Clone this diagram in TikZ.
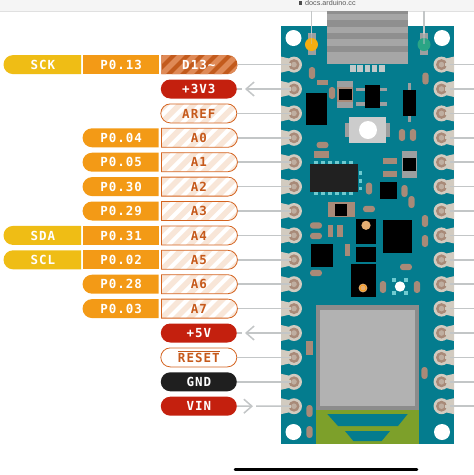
\documentclass[tikz,border=0pt]{standalone}
\usepackage{fontspec}
\usetikzlibrary{arrows.meta,shapes.misc}
\newfontfamily\pinfont[LetterSpace=8]{DejaVu Sans Mono}
\newfontfamily\urlfont{Liberation Sans}
\definecolor{pcbteal}{HTML}{047C8E}
\definecolor{padbeige}{HTML}{D2CBC0}
\definecolor{padbrown}{HTML}{A88A78}
\definecolor{partgrey}{HTML}{9C9FA0}
\definecolor{wire}{HTML}{C3C6C7}
\definecolor{altyellow}{HTML}{EFBD15}
\definecolor{portorange}{HTML}{F39A16}
\definecolor{pwrred}{HTML}{C4200E}
\definecolor{rust}{HTML}{D4631F}
\definecolor{rusttext}{HTML}{C65A1C}
\definecolor{hatchlight}{HTML}{F8E6D8}
\definecolor{cyandot}{HTML}{6ECAD0}
\definecolor{ledorange}{HTML}{F5AE10}
\definecolor{ledgreen}{HTML}{2AA585}
\definecolor{antenna}{HTML}{7DA02A}
\tikzset{
  pill/.style={rounded rectangle,inner sep=0pt,minimum height=19pt,text height=9.5pt,text depth=0pt,
    font=\pinfont\bfseries\fontsize{12.5}{14}\selectfont,text=white},
  stripes/.style={path picture={
    \foreach \s in {-56,-42,...,56}
      \draw[#1,line width=5.5pt] ([xshift=\s pt]path picture bounding box.center) ++(-14,14) -- ++(28,-28);}},
  pinbase/.style={pill,minimum width=76pt},
  pindig/.style={pinbase,rounded rectangle west arc=none,fill=rust!92!black,stripes=rust!75!white},
  pinpwr/.style={pinbase,fill=pwrred},
  pingnd/.style={pinbase,fill=black!88},
  pinref/.style={pinbase,draw=rust,fill=white,text=rusttext,line width=0.8pt,stripes=hatchlight},
  pinana/.style={pinref,rounded rectangle west arc=none},
  pinrst/.style={pinbase,draw=rust,fill=white,text=rusttext,line width=0.8pt},
  portflat/.style={pill,rectangle,minimum width=76pt,fill=portorange},
  portend/.style={pill,minimum width=76pt,fill=portorange,rounded rectangle east arc=none},
  altpin/.style={pill,minimum width=77.5pt,fill=altyellow,rounded rectangle east arc=none},
  padnode/.style={circle,fill=padbeige,minimum size=16pt,inner sep=0pt},
  conn/.style={wire,line width=1.5pt},
  chevron/.style={wire,line width=1.5pt,-{Straight Barb[length=8pt,width=14pt]}},
  brownpart/.style={padbrown,rounded corners=3pt},
}
\begin{document}
\begin{tikzpicture}[x=1pt,y=-1pt]
  \useasboundingbox (0,0) rectangle (474,475);
  \fill[white] (0,0) rectangle (474,475);
  % browser bar
  \fill[black!4] (0,0) rectangle (474,11);
  \draw[black!12,line width=0.6pt] (0,11.5) -- (474,11.5);
  \fill[black!70] (299,1) rectangle (301.5,4.5);
  \node[font=\urlfont\fontsize{7.2}{8}\selectfont,text=black!65,anchor=base west,inner sep=0pt] (url) at (305,5) {docs.arduino.cc};
  \draw[black,line width=2.5pt,line cap=round] (235,469.5) -- (417,469.5);
  % board
  \fill[pcbteal] (281,26) rectangle (454,444);
  \foreach \x in {293.5,442}
    \foreach \y in {38,432}
      \fill[white] (\x,\y) circle (8);
  % heatsink
  \fill[black!44] (327,11) rectangle (408,64);
  \foreach \a/\b in {14.3/20,26.7/33.3,39.3/46,52.4/64}
    \fill[black!35] (327,\a) rectangle (408,\b);
  \foreach \x in {350,357.3,364.6,371.9,379.2}
    \fill[cyandot!30!black!28] (\x,65) rectangle (\x+5.5,72);
  % leds
  \foreach \x/\c in {311.5/ledorange,424/ledgreen} {
    \fill[partgrey] (\x-4,33) rectangle (\x+4,55);
    \fill[\c] (\x,44.5) circle (6.5);
    \draw[wire,line width=1.5pt] (\x,11) -- (\x,34);
    \draw[wire,line width=1.5pt,opacity=0.45] (\x,34) -- (\x,44);
  }
  % black parts
  \foreach \a/\b/\c/\d in {306/93/327/125,380/182/397/199,356/219/376/244,383/220/412/253,311/244/333/267,356/247/376/262,351/264/376/297}
    \fill[black] (\a,\b) rectangle (\c,\d);
  % sot parts
  \fill[partgrey] (337,81) rectangle (353,108);
  \fill[padbrown] (337,87) rectangle (353,102);
  \fill[black] (338.5,88.5) rectangle (351.5,100);
  \fill[partgrey] (402,151) rectangle (417,178);
  \fill[black] (403,158) rectangle (416,171);
  \fill[padbrown] (328,202) rectangle (355,217);
  \fill[black] (335,203.5) rectangle (347,215.5);
  \fill[partgrey] (356,87.5) rectangle (387,91);
  \fill[partgrey] (356,102) rectangle (387,106);
  \fill[black] (365,85) rectangle (380,108);
  \fill[partgrey] (407.5,83) rectangle (411,122);
  \fill[black] (403,90) rectangle (416,116);
  % button
  \fill[black!38] (345,123) rectangle (390,137);
  \fill[black!20] (349,117) rectangle (386,143);
  \fill[white] (368,130) circle (9);
  % main chip
  \fill[black!87] (310,164) rectangle (358,192);
  \foreach \x in {316,323,330,337,344,351} {
    \fill[cyandot] (\x-1.7,160.5) rectangle (\x+1.7,163.5);
    \fill[cyandot] (\x-1.7,192.3) rectangle (\x+1.7,195.3);
  }
  \foreach \y in {173,181,188.5}
    \fill[cyandot] (358.6,\y-1.7) rectangle (361.6,\y+1.7);
  % small brown parts
  \foreach \a/\b/\c/\d in {317/80/328/85,314/150.5/329/157.5,383/158/397/164,383/171/397/177,328/225/333/237,337/225/343/237,345/244/350/256,306/341/313/355}
    \fill[padbrown] (\a,\b) rectangle (\c,\d);
  \foreach \x/\y in {312/73,425.5/78.5,332/93,402/135,413/135,369/188.5,404.5/191,411.5/202,425/221,425/241,383/287,417/287,424.5/373,309.5/411,309.5/432}
    \fill[brownpart] (\x-3.2,\y-6) rectangle (\x+3.2,\y+6);
  \foreach \x/\y in {322.5/145,369/209,316/225.5,316/236,406/267,316/273}
    \fill[brownpart] (\x-6,\y-3.2) rectangle (\x+6,\y+3.2);
  % test points
  \fill[padbeige!60!orange] (366,225.3) circle (4.6);
  \fill[padbeige!60!orange] (363,288) circle (4.4);
  \draw[orange!80!yellow,line width=0.6pt] (363,288) circle (3);
  \fill[cyandot] (392,278) rectangle (408,295);
  \fill[pcbteal] (396,278) rectangle (404,295);
  \fill[pcbteal] (392,282) rectangle (408,291);
  \fill[white] (400,286.5) circle (5.2);
  % radio module
  \fill[black!45] (316,305) rectangle (419,410);
  \fill[black!30] (320,310) rectangle (415,406);
  \fill[antenna] (316,410) rectangle (419,444);
  \fill[pcbteal] (327.3,414) -- (407.7,414) -- (398,426) -- (338,426) -- cycle;
  \fill[pcbteal] (345,431) -- (390,431) -- (381.7,441) -- (353.3,441) -- cycle;
  % pads
  \foreach \i in {0,...,14} {
    \pgfmathsetmacro\y{64.6+24.4*\i}
    \fill[padbeige] (281,\y-8) -- (294,\y-5) -- (294,\y+5) -- (281,\y+8) -- cycle;
    \fill[padbeige] (454,\y-8) -- (441,\y-5) -- (441,\y+5) -- (454,\y+8) -- cycle;
    \node[padnode] (padL\i) at (294,\y) {};
    \node[padnode] (padR\i) at (441.5,\y) {};
    \fill[padbrown] (padL\i) circle (5.5);
    \fill[padbrown] (padR\i) circle (5.5);
    \fill[padbeige!55!padbrown] (padL\i) circle (2.8);
    \fill[padbeige!55!padbrown] (padR\i) circle (2.8);
    \fill[padbeige] (281,\y-1.6) rectangle (291,\y+1.6);
    \fill[padbeige] (444.5,\y-1.6) rectangle (454,\y+1.6);
    \coordinate (edgeR\i) at (474,\y);
    \draw[conn] (padR\i.center) ++(8,0) -- (edgeR\i);
  }
  % pin labels
  \foreach \i/\txt/\sty in {0/D13\textasciitilde/pindig,1/+3V3/pinpwr,2/AREF/pinref,3/A0/pinana,4/A1/pinana,5/A2/pinana,6/A3/pinana,7/A4/pinana,8/A5/pinana,9/A6/pinana,10/A7/pinana,11/+5V/pinpwr,12/\ensuremath{\overline{\hbox{RESET}}}/pinrst,13/GND/pingnd,14/VIN/pinpwr} {
    \pgfmathsetmacro\y{64.6+24.4*\i}
    \node[\sty] (pin\i) at (198.8,\y) {\txt};
  }
  \foreach \i/\txt/\sty in {0/P0.13/portflat,3/P0.04/portend,4/P0.05/portend,5/P0.30/portend,6/P0.29/portend,7/P0.31/portflat,8/P0.02/portflat,9/P0.28/portend,10/P0.03/portend} {
    \pgfmathsetmacro\y{64.6+24.4*\i}
    \node[\sty] (port\i) at (121.2,\y) {\txt};
  }
  \foreach \i/\txt in {0/SCK,7/SDA,8/SCL} {
    \pgfmathsetmacro\y{64.6+24.4*\i}
    \node[altpin] (alt\i) at (42.9,\y) {\txt};
  }
  % connectors
  \foreach \i in {0,2,3,4,5,6,7,8,9,10,12,13}
    \draw[conn,shorten >=4pt] (pin\i.east) -- (padL\i.center);
  \foreach \i in {1,11} {
    \coordinate (tip\i) at (245,{64.6+24.4*\i});
    \coordinate (stub\i) at (241.5,{64.6+24.4*\i});
    \draw[chevron] (padL\i.center) ++(-4,0) -- (tip\i);
    \draw[conn] (pin\i.east) -- (stub\i);
  }
  \coordinate (tip14) at (253,406.2);
  \coordinate (tail14) at (256,406.2);
  \draw[chevron] (pin14.east) -- (tip14);
  \draw[conn,shorten >=4pt] (tail14) -- (padL14.center);
\end{tikzpicture}
\end{document}
